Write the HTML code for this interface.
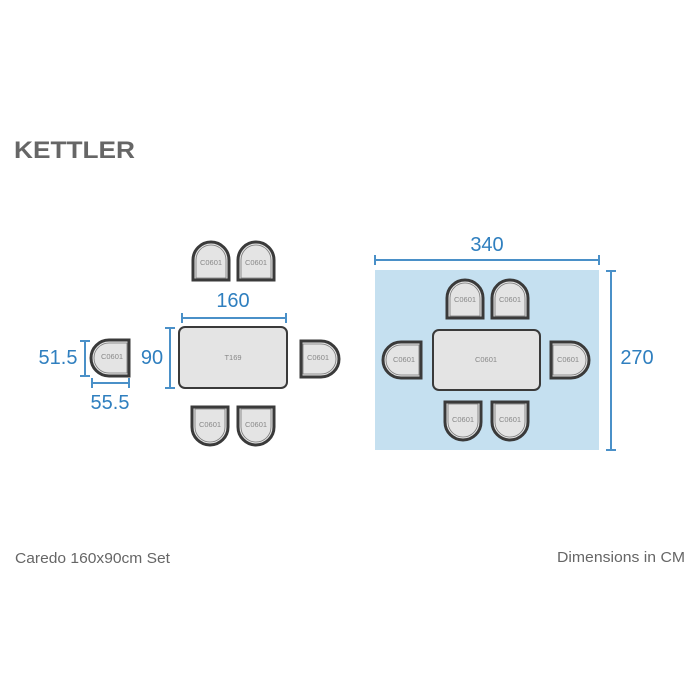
<!DOCTYPE html>
<html><head><style>
body{margin:0;background:#fff;width:700px;height:700px;overflow:hidden}
svg{display:block;font-family:"Liberation Sans",sans-serif}
</style></head><body>
<svg width="700" height="700" viewBox="0 0 700 700">
<defs>
<g id="ch">
<path d="M-18,19 L-18,-1 A18,18 0 0 1 18,-1 L18,19 Z" fill="#e4e4e4" stroke="#3a3a3a" stroke-width="3"/>
<path d="M-15,17 L-15,-1 A15,15 0 0 1 15,-1 L15,17 Z" fill="#e4e4e4" stroke="#777" stroke-width="0.8"/>
</g>
</defs>
<text x="14" y="158" font-size="24" font-weight="bold" fill="#666" textLength="121" lengthAdjust="spacingAndGlyphs">KETTLER</text>

<!-- left set -->
<g fill="none" stroke="#4a90c8" stroke-width="2">
<line x1="182" y1="318" x2="286" y2="318"/><line x1="182" y1="313" x2="182" y2="323"/><line x1="286" y1="313" x2="286" y2="323"/>
<line x1="170" y1="328" x2="170" y2="388"/><line x1="165" y1="328" x2="175" y2="328"/><line x1="165" y1="388" x2="175" y2="388"/>
<line x1="85" y1="341" x2="85" y2="376"/><line x1="80" y1="341" x2="90" y2="341"/><line x1="80" y1="376" x2="90" y2="376"/>
<line x1="92" y1="383" x2="129" y2="383"/><line x1="92" y1="378" x2="92" y2="388"/><line x1="129" y1="378" x2="129" y2="388"/>
</g>
<g fill="#2f7fbf" font-size="20" text-anchor="middle">
<text x="233" y="307">160</text><text x="152" y="364">90</text>
<text x="58" y="364">51.5</text><text x="110" y="409">55.5</text>
</g>
<rect x="179" y="327" width="108" height="61" rx="6" fill="#e4e4e4" stroke="#3a3a3a" stroke-width="2"/>
<use href="#ch" transform="translate(211,261)"/>
<use href="#ch" transform="translate(256,261)"/>
<use href="#ch" transform="translate(210,426) rotate(180)"/>
<use href="#ch" transform="translate(256,426) rotate(180)"/>
<use href="#ch" transform="translate(110,358) rotate(-90)"/>
<use href="#ch" transform="translate(320,359) rotate(90)"/>

<!-- right set -->
<rect x="375" y="270" width="224" height="180" fill="#c5e0f0"/>
<g fill="none" stroke="#4a90c8" stroke-width="2">
<line x1="375" y1="260" x2="599" y2="260"/><line x1="375" y1="255" x2="375" y2="265"/><line x1="599" y1="255" x2="599" y2="265"/>
<line x1="611" y1="271" x2="611" y2="450"/><line x1="606" y1="271" x2="616" y2="271"/><line x1="606" y1="450" x2="616" y2="450"/>
</g>
<g fill="#2f7fbf" font-size="20" text-anchor="middle">
<text x="487" y="251">340</text><text x="637" y="364">270</text>
</g>
<rect x="433" y="330" width="107" height="60" rx="6" fill="#e4e4e4" stroke="#3a3a3a" stroke-width="2"/>
<use href="#ch" transform="translate(465,299)"/>
<use href="#ch" transform="translate(510,299)"/>
<use href="#ch" transform="translate(463,421) rotate(180)"/>
<use href="#ch" transform="translate(510,421) rotate(180)"/>
<use href="#ch" transform="translate(402,360) rotate(-90)"/>
<use href="#ch" transform="translate(570,360) rotate(90)"/>

<g fill="#888" font-size="7.5" text-anchor="middle">
<text x="211" y="265">C0601</text><text x="256" y="265">C0601</text>
<text x="210" y="427">C0601</text><text x="256" y="427">C0601</text>
<text x="112" y="359">C0601</text><text x="318" y="360">C0601</text>
<text x="233" y="360">T169</text>
<text x="465" y="302">C0601</text><text x="510" y="302">C0601</text>
<text x="463" y="422">C0601</text><text x="510" y="422">C0601</text>
<text x="404" y="362">C0601</text><text x="568" y="362">C0601</text>
<text x="486" y="362">C0601</text>
</g>

<text x="15" y="563" font-size="15" fill="#666" textLength="155" lengthAdjust="spacingAndGlyphs">Caredo 160x90cm Set</text>
<text x="557" y="562" font-size="15" fill="#666" textLength="128" lengthAdjust="spacingAndGlyphs">Dimensions in CM</text>
</svg>
</body></html>
